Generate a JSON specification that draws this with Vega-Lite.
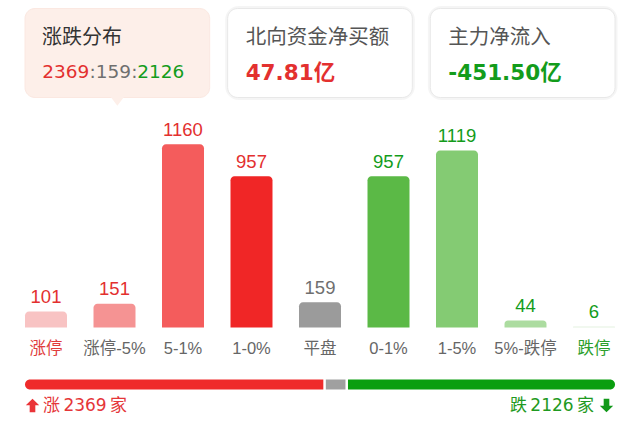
{
  "$schema": "https://vega.github.io/schema/vega-lite/v6.json",
  "padding": {"top": 5.5, "left": 0, "right": 0, "bottom": 0},
  "background": "#ffffff",
  "bounds": "flush",
  "spacing": 0,
  "config": {"view": {"stroke": null}},
  "datasets": {
    "cards": [
      {"card": "涨跌分布", "row": "title", "part": "title", "text": "涨跌分布"},
      {"card": "涨跌分布", "row": "value", "part": "p1", "text": "2369", "dir": "up"},
      {"card": "涨跌分布", "row": "value", "part": "p2", "text": ":159:", "dir": "flat"},
      {"card": "涨跌分布", "row": "value", "part": "p3", "text": "2126", "dir": "down"},
      {"card": "涨跌分布", "row": "pointer", "part": "pointer"},
      {"card": "北向资金净买额", "row": "title", "part": "title", "text": "北向资金净买额"},
      {"card": "北向资金净买额", "row": "value", "part": "v", "text": "47.81亿", "dir": "up"},
      {"card": "主力净流入", "row": "title", "part": "title", "text": "主力净流入"},
      {"card": "主力净流入", "row": "value", "part": "v", "text": "-451.50亿", "dir": "down"}
    ],
    "bars": [
      {"range": "涨停", "count": 101, "dir": "up"},
      {"range": "涨停-5%", "count": 151, "dir": "up"},
      {"range": "5-1%", "count": 1160, "dir": "up"},
      {"range": "1-0%", "count": 957, "dir": "up"},
      {"range": "平盘", "count": 159, "dir": "flat"},
      {"range": "0-1%", "count": 957, "dir": "down"},
      {"range": "1-5%", "count": 1119, "dir": "down"},
      {"range": "5%-跌停", "count": 44, "dir": "down"},
      {"range": "跌停", "count": 6, "dir": "down"}
    ],
    "split": [
      {"seq": 1, "dir": "up", "count": 2369, "label": "涨\u20092369\u2009家"},
      {"seq": 2, "dir": "flat", "count": 159, "label": "平\u2009159\u2009家"},
      {"seq": 3, "dir": "down", "count": 2126, "label": "跌\u20092126\u2009家"}
    ]
  },
  "vconcat": [
    {
      "width": 640,
      "height": 89,
      "data": {"name": "cards"},
      "encoding": {
        "x": {"field": "card", "type": "nominal", "sort": null,
          "scale": {"domain": ["涨跌分布", "北向资金净买额", "主力净流入"], "range": [25, 615], "paddingInner": 0.0887, "paddingOuter": 0},
          "axis": null}
      },
      "layer": [
        {
          "transform": [{"filter": "datum.row === 'title' && datum.card !== '涨跌分布'"}],
          "mark": {"type": "rect", "fill": "#ffffff", "stroke": "#000000", "strokeOpacity": 0.04, "strokeWidth": 5, "cornerRadius": 11}
        },
        {
          "transform": [{"filter": "datum.row === 'title' && datum.card !== '涨跌分布'"}],
          "mark": {"type": "rect", "fill": "#ffffff", "stroke": "#e8e8e8", "strokeWidth": 1, "cornerRadius": 10}
        },
        {
          "transform": [{"filter": "datum.row === 'title' && datum.card === '涨跌分布'"}],
          "mark": {"type": "rect", "fill": "#fdefe9", "stroke": "#fbe8e1", "strokeWidth": 1, "cornerRadius": 10}
        },
        {
          "transform": [{"filter": "datum.row === 'pointer'"}],
          "mark": {"type": "point", "shape": "M-1,-0.65L1,-0.65L0,0.65Z", "size": 196, "filled": true, "fill": "#fdefe9", "opacity": 1, "strokeWidth": 0, "yOffset": -5},
          "encoding": {
            "y": {"field": "row", "type": "nominal", "scale": {"type": "point", "domain": ["title", "value", "pointer"], "range": [29, 97.6], "padding": 0}, "axis": null}
          }
        },
        {
          "transform": [{"filter": "datum.row === 'title' && datum.card === '涨跌分布'"}],
          "mark": {"type": "text", "align": "left", "baseline": "middle", "dx": 17, "font": "Noto Sans CJK SC", "fontSize": 20, "color": "#333333"},
          "encoding": {
            "x": {"field": "card", "type": "nominal", "bandPosition": 0},
            "y": {"field": "row", "type": "nominal", "scale": {"type": "point", "domain": ["title", "value", "pointer"], "range": [29, 97.6], "padding": 0}, "axis": null},
            "text": {"field": "text"}
          }
        },
        {
          "transform": [{"filter": "datum.row === 'title' && datum.card !== '涨跌分布'"}],
          "mark": {"type": "text", "align": "left", "baseline": "middle", "dx": 18, "font": "Noto Sans CJK SC", "fontSize": 20.5, "color": "#555555"},
          "encoding": {
            "x": {"field": "card", "type": "nominal", "bandPosition": 0},
            "y": {"field": "row", "type": "nominal", "axis": null},
            "text": {"field": "text"}
          }
        },
        {
          "transform": [{"filter": "datum.part === 'p1'"}],
          "mark": {"type": "text", "align": "left", "baseline": "middle", "dx": 17.3, "font": "DejaVu Sans", "fontSize": 18.5},
          "encoding": {
            "x": {"field": "card", "type": "nominal", "bandPosition": 0},
            "y": {"field": "row", "type": "nominal", "axis": null},
            "text": {"field": "text"},
            "color": {"field": "dir", "type": "nominal", "scale": {"domain": ["up", "flat", "down"], "range": ["#e3302f", "#6f6f6f", "#139c1b"]}, "legend": null}
          }
        },
        {
          "transform": [{"filter": "datum.part === 'p2'"}],
          "mark": {"type": "text", "align": "left", "baseline": "middle", "dx": 64.6, "font": "DejaVu Sans", "fontSize": 18.5},
          "encoding": {
            "x": {"field": "card", "type": "nominal", "bandPosition": 0},
            "y": {"field": "row", "type": "nominal", "axis": null},
            "text": {"field": "text"},
            "color": {"field": "dir", "type": "nominal", "legend": null}
          }
        },
        {
          "transform": [{"filter": "datum.part === 'p3'"}],
          "mark": {"type": "text", "align": "left", "baseline": "middle", "dx": 112.3, "font": "DejaVu Sans", "fontSize": 18.5},
          "encoding": {
            "x": {"field": "card", "type": "nominal", "bandPosition": 0},
            "y": {"field": "row", "type": "nominal", "axis": null},
            "text": {"field": "text"},
            "color": {"field": "dir", "type": "nominal", "legend": null}
          }
        },
        {
          "transform": [{"filter": "datum.part === 'v'"}],
          "mark": {"type": "text", "align": "left", "baseline": "middle", "dx": 18, "dy": 2, "font": "DejaVu Sans, Noto Sans CJK SC", "fontWeight": "bold", "fontSize": 21.5},
          "encoding": {
            "x": {"field": "card", "type": "nominal", "bandPosition": 0},
            "y": {"field": "row", "type": "nominal", "axis": null},
            "text": {"field": "text"},
            "color": {"field": "dir", "type": "nominal", "legend": null}
          }
        }
      ]
    },
    {
      "width": 640,
      "height": 282,
      "data": {"name": "bars"},
      "encoding": {
        "x": {"field": "range", "type": "nominal", "sort": null,
          "scale": {"domain": ["涨停", "涨停-5%", "5-1%", "1-0%", "平盘", "0-1%", "1-5%", "5%-跌停", "跌停"], "range": [25, 615], "paddingInner": 0.387, "paddingOuter": 0},
          "axis": {
            "title": null, "domain": false, "ticks": false, "tickSize": 0, "labelPadding": 13, "labelAngle": 0, "offset": -52,
            "labelOverlap": false, "labelBaseline": "top",
            "labelFont": "Liberation Sans, Noto Sans CJK SC", "labelFontSize": 16.5,
            "labelColor": {"condition": [
              {"test": "datum.value === '涨停'", "value": "#e03c3c"},
              {"test": "datum.value === '跌停'", "value": "#2c9f2c"}
            ], "value": "#666666"}
          }
        },
        "y": {"field": "count", "type": "quantitative", "scale": {"domain": [-329, 1455], "nice": false, "zero": false}, "axis": null}
      },
      "layer": [
        {
          "mark": {"type": "bar", "cornerRadiusTopLeft": 4, "cornerRadiusTopRight": 4},
          "encoding": {
            "y2": {"datum": 0},
            "fill": {"field": "range", "type": "nominal", "sort": null,
              "scale": {"domain": ["涨停", "涨停-5%", "5-1%", "1-0%", "平盘", "0-1%", "1-5%", "5%-跌停", "跌停"],
                "range": ["#f8c3c3", "#f59393", "#f45c5c", "#f02626", "#9b9b9b", "#5bb946", "#84cb73", "#acdca0", "#e3f1e0"]},
              "legend": null}
          }
        },
        {
          "mark": {"type": "text", "dy": -8.5, "baseline": "alphabetic", "align": "center", "font": "Liberation Sans", "fontSize": 18.5},
          "encoding": {
            "text": {"field": "count", "type": "quantitative", "format": "d"},
            "color": {"field": "dir", "type": "nominal", "scale": {"domain": ["up", "flat", "down"], "range": ["#dc3b3b", "#777777", "#2a9d2a"]}, "legend": null}
          }
        }
      ]
    },
    {
      "width": 640,
      "height": 10,
      "data": {"name": "split"},
      "transform": [{"stack": "count", "groupby": [], "sort": [{"field": "seq", "order": "ascending"}], "as": ["x0", "x1"]}],
      "layer": [
        {
          "transform": [{"filter": "datum.dir === 'up'"}],
          "mark": {"type": "rect", "color": "#ef2b2b", "cornerRadiusTopLeft": 5, "cornerRadiusBottomLeft": 5, "x2Offset": -2},
          "encoding": {
            "x": {"field": "x0", "type": "quantitative", "scale": {"domain": [0, 4654], "range": [25, 615], "nice": false, "zero": false}, "axis": null},
            "x2": {"field": "x1"}
          }
        },
        {
          "transform": [{"filter": "datum.dir === 'flat'"}],
          "mark": {"type": "rect", "color": "#a0a0a0", "xOffset": 0.5, "x2Offset": 0},
          "encoding": {
            "x": {"field": "x0", "type": "quantitative", "axis": null},
            "x2": {"field": "x1"}
          }
        },
        {
          "transform": [{"filter": "datum.dir === 'down'"}],
          "mark": {"type": "rect", "color": "#0a9e0f", "cornerRadiusTopRight": 5, "cornerRadiusBottomRight": 5, "xOffset": 2.5},
          "encoding": {
            "x": {"field": "x0", "type": "quantitative", "axis": null},
            "x2": {"field": "x1"}
          }
        },
        {
          "transform": [{"filter": "datum.dir === 'up'"}],
          "mark": {"type": "point", "shape": "M0,-1L1,-0.05L0.42,-0.05L0.42,1L-0.42,1L-0.42,-0.05L-1,-0.05Z", "size": 180, "filled": true, "color": "#ea3438", "opacity": 1, "strokeWidth": 0, "xOffset": 7.5, "yOffset": 21},
          "encoding": {"x": {"field": "x0", "type": "quantitative", "axis": null}}
        },
        {
          "transform": [{"filter": "datum.dir === 'up'"}],
          "mark": {"type": "text", "align": "left", "baseline": "middle", "dx": 18, "dy": 21, "font": "DejaVu Sans, Noto Sans CJK SC", "fontSize": 17, "color": "#e53639"},
          "encoding": {"x": {"field": "x0", "type": "quantitative", "axis": null}, "text": {"field": "label"}}
        },
        {
          "transform": [{"filter": "datum.dir === 'down'"}],
          "mark": {"type": "text", "align": "right", "baseline": "middle", "dx": -21, "dy": 21, "font": "DejaVu Sans, Noto Sans CJK SC", "fontSize": 17, "color": "#1f9a22"},
          "encoding": {"x": {"field": "x1", "type": "quantitative", "axis": null}, "text": {"field": "label"}}
        },
        {
          "transform": [{"filter": "datum.dir === 'down'"}],
          "mark": {"type": "point", "shape": "M0,1L1,0.05L0.42,0.05L0.42,-1L-0.42,-1L-0.42,0.05L-1,0.05Z", "size": 180, "filled": true, "color": "#12991a", "opacity": 1, "strokeWidth": 0, "xOffset": -8.5, "yOffset": 21},
          "encoding": {"x": {"field": "x1", "type": "quantitative", "axis": null}}
        }
      ]
    }
  ]
}
